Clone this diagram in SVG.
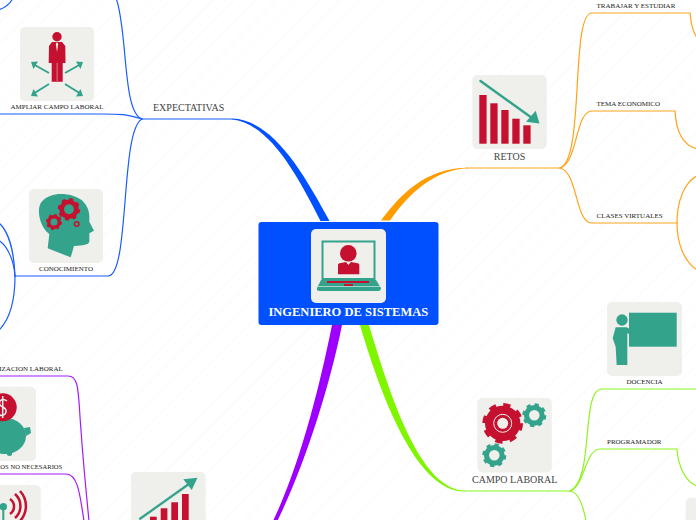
<svg xmlns="http://www.w3.org/2000/svg" width="696" height="520" viewBox="0 0 696 520">
<style>
.box{fill:#efefeb}
.red{fill:#c5102f}
.teal{fill:#34a38c}
.tl{stroke:#34a38c;fill:none}
.c{fill:none;stroke-width:1.2;stroke-linecap:round}
.blue{stroke:#1a5cff}.orange{stroke:#ffa31a}.green{stroke:#8cf51a}.purple{stroke:#a31aff}
text{font-family:"Liberation Serif","Times New Roman",serif;fill:#333}
.s{font-size:7px;fill:#222}
.m{font-size:10px;fill:#444}
</style>
<defs>
<pattern id="bg" width="15" height="15" patternUnits="userSpaceOnUse" patternTransform="rotate(-45)">
<rect width="15" height="15" fill="#fff"/><rect width="15" height="1.2" fill="#fbfbfb"/>
</pattern>
<g id="gear" fill="none">
<circle r="7" stroke-width="4.6"/>
<circle r="9.4" stroke-width="2.6" stroke-dasharray="3.69 3.69"/>
</g>
</defs>
<rect width="696" height="520" fill="url(#bg)"/>
<g id="connectors">
<path fill="#0050ff" d="M232,118.600C272,120 302,170 329.500,221L320.500,221C296,172 268,123 232,119.600Z"/>
<path fill="#ff9d00" d="M381,220.500C400,195 425,168 468,167.700L468,168.300C435,170 410,192 390,220.500Z"/>
<path fill="#9d00ff" d="M332,325L342,325C330,385 305,465 277.300,521L273,521C300,465 320,385 332,325Z"/>
<path fill="#80f500" d="M360,325L369,325C390,395 420,490 465,490.600L465,491.600C420,492 385,410 360,325Z"/>
<g class="c blue">
<path d="M232,119H142"/>
<path d="M142,119C122,112 128,30 116,-2"/>
<path d="M142,119C125,114 122,114 100,114H-2"/>
<path d="M142,119C120,130 130,276 108,276H15"/>
<path d="M15,276C14,250 8,230 -2,222"/>
<path d="M15,276C14,262 8,245 -2,240"/>
<path d="M15,276C15,300 10,320 -2,331"/>
<path d="M13,-2C10,4 5,8 -2,10"/>
</g>
<g class="c orange">
<path d="M466,168H560"/>
<path d="M560,168C585,160 570,13 592,13H690C691,25 693,32 697,38"/>
<path d="M560,168C578,163 575,111 592,111H675C676,130 682,145 697,149"/>
<path d="M560,168C578,172 575,223 592,223H677"/>
<path d="M677,223C677,200 685,182 697,176"/>
<path d="M677,223C677,245 685,262 697,270"/>
</g>
<g class="c green">
<path d="M465,491H570"/>
<path d="M570,491C595,480 580,389 602,389H697"/>
<path d="M570,491C585,486 585,449 600,449H677C678,465 685,482 697,486"/>
<path d="M570,491C578,492 583,505 586,521"/>
</g>
<g class="c purple">
<path d="M-2,376H68C80,376 78,395 81,430C83,460 86,490 89,521"/>
<path d="M-2,474H66C78,474 80,495 84,521"/>
</g>
</g>
<g id="central">
<rect x="258.500" y="222" width="180" height="103" rx="3" fill="#0050ff"/>
<rect class="box" x="311" y="229" width="75" height="74" rx="5"/>
<rect x="322.500" y="241.500" width="52" height="37.500" fill="#efefeb" stroke="#34a38c" stroke-width="2"/>
<path class="teal" d="M321,280H376L381,288Q381,291 378,291H320Q316,291 317,288Z"/>
<rect x="318" y="286" width="62" height="1" fill="#a5d5ca"/>
<rect class="red" x="327" y="281" width="42" height="2"/>
<rect class="red" x="344" y="284" width="9" height="2"/>
<circle class="red" cx="348.300" cy="253.300" r="8.300"/>
<path class="red" d="M338,265Q338,263 341,263L346,262L348.300,265L351,262L356,263Q359.300,263 359.300,265V274.300H338Z"/>
<text x="348.300" y="316" text-anchor="middle" font-size="12.500" font-weight="bold" style="fill:#fff">INGENIERO DE SISTEMAS</text>
</g>
<g id="expectativas"><text class="m" x="153" y="111">EXPECTATIVAS</text></g>
<g id="ampliar">
<rect class="box" x="20" y="27" width="74" height="74" rx="5"/>
<circle class="red" cx="57" cy="36.700" r="4.700"/>
<path class="red" d="M52,42H62L65.300,46L65.500,63H62.700V81.700H51.700V63H48.700L49,46Z"/>
<path d="M57,42L55.800,44L57,52L58.200,44Z" fill="#efefeb"/>
<rect x="56.800" y="63" width=".5" height="18" fill="#efefeb"/>
<g class="tl" stroke-width="2">
<path d="M49,73L33,64"/><path d="M65,73L81,64"/><path d="M49,84L33,94"/><path d="M65,84L81,94"/>
</g>
<path class="teal" d="M31,62L38,61.500L33.500,69ZM83,62L76,61.500L80.500,69ZM31,96L38,96.500L33.500,89ZM83,96L76,96.500L80.500,89Z"/>
<text class="s" x="57" y="108.500" text-anchor="middle">AMPLIAR CAMPO LABORAL</text>
</g>
<g id="conocimiento">
<rect class="box" x="29" y="189" width="74" height="74" rx="5"/>
<path class="teal" transform="scale(.33333)" d="M143,745L148,702C118,680 108,625 125,605C150,575 210,575 245,600C272,625 268,650 268,665L282,692L268,700L268,725C265,735 250,735 222,738L212,772Z"/>
<use href="#gear" stroke="#c5102f" transform="translate(69,209.300) scale(1.050)"/>
<use href="#gear" stroke="#c5102f" transform="translate(54,222) scale(.75)"/>
<circle cx="76.700" cy="224" r="2.300" fill="none" stroke="#c5102f" stroke-width="1.500"/>
<text class="s" x="66" y="271" text-anchor="middle">CONOCIMIENTO</text>
</g>
<g id="retos">
<rect class="box" x="472.300" y="75" width="74.500" height="74" rx="5"/>
<g class="red">
<rect x="479.300" y="95" width="7.300" height="48.700"/>
<rect x="490.300" y="103.300" width="7.300" height="40.400"/>
<rect x="501.300" y="110" width="7.300" height="33.700"/>
<rect x="512.300" y="118.700" width="7.300" height="25"/>
<rect x="523.300" y="125.300" width="7.300" height="18.400"/>
</g>
<path class="tl" stroke-width="2.500" stroke-linecap="round" d="M480.500,81L532,118"/>
<path class="teal" d="M539.500,123.500L526,121.700L535.700,110.700Z"/>
<text class="m" x="509.500" y="160" text-anchor="middle">RETOS</text>
</g>
<g id="trabajar"><text class="s" x="596.500" y="8">TRABAJAR Y ESTUDIAR</text></g>
<g id="tema"><text class="s" x="596.500" y="106">TEMA ECONOMICO</text></g>
<g id="clases"><text class="s" x="596.500" y="218">CLASES VIRTUALES</text></g>
<g id="docencia">
<rect class="box" x="607" y="302" width="75" height="74" rx="5"/>
<rect class="teal" x="629" y="312.700" width="47.700" height="34"/>
<circle class="teal" cx="622" cy="320" r="5.700"/>
<path class="teal" transform="translate(450,290) scale(.33333)" d="M497,112L530,112C540,120 560,122 580,120L582,130C560,135 540,135 532,130L532,225L500,225L497,170L488,145Z"/>
<text class="s" x="644.500" y="384" text-anchor="middle">DOCENCIA</text>
</g>
<g id="programador"><text class="s" x="607" y="444">PROGRAMADOR</text></g>
<g id="campo">
<rect class="box" x="477.300" y="398" width="74.500" height="74.500" rx="5"/>
<use href="#gear" stroke="#c5102f" transform="translate(502.700,423.300) scale(1.900)"/>
<circle cx="502.700" cy="423.300" r="10" fill="#c5102f" stroke="none"/>
<circle cx="502.700" cy="423.300" r="9" fill="none" stroke="#efefeb" stroke-width="1"/>
<circle cx="502.700" cy="423.300" r="5.500" fill="#efefeb"/>
<use href="#gear" stroke="#34a38c" transform="translate(534.300,415.300) scale(1.120)"/>
<use href="#gear" stroke="#34a38c" transform="translate(494.300,455.300) scale(1.120)"/>
<text class="m" x="472" y="483">CAMPO LABORAL</text>
</g>
<g id="actualizacion"><text class="s" x="62.800" y="371" text-anchor="end">IZACION LABORAL</text></g>
<g id="ahorro">
<rect class="box" x="-20" y="386.700" width="56" height="74.300" rx="5"/>
<circle cx="2.700" cy="407.300" r="15.500" fill="#efefeb"/>
<ellipse class="teal" cx="5" cy="436" rx="21" ry="18"/>
<path class="teal" d="M24,428L30,427L31,433L26,436ZM7,452H12V455Q9.500,457 7,455Z"/>
<circle class="red" cx="2.700" cy="407.300" r="14"/>
<path d="M7,401Q3,398 0,401Q-2,405 3,407Q8,410 5,414Q2,417 -2,414M2.700,396V418" fill="none" stroke="#efefeb" stroke-width="1.500"/>
<text class="s" x="0.300" y="469" textLength="62" lengthAdjust="spacingAndGlyphs">OS NO NECESARIOS</text>
</g>
<g id="senal">
<rect class="box" x="-20" y="485" width="60.700" height="50" rx="5"/>
<circle class="teal" cx="3.300" cy="506.700" r="3.700"/>
<rect class="teal" x="2.300" y="508" width="2" height="14"/>
<g fill="none" stroke="#c5102f" stroke-width="2.500">
<path d="M10,499A9,9 0 0 1 10,514"/>
<path d="M15,494A16,16 0 0 1 15,518"/>
<path d="M20,491A22,22 0 0 1 20,521"/>
</g>
</g>
<g id="crecimiento">
<rect class="box" x="131" y="472" width="74.700" height="60" rx="5"/>
<g class="red">
<rect x="150" y="516.700" width="6.700" height="5"/>
<rect x="160.700" y="508.300" width="6.700" height="13"/>
<rect x="171.300" y="502.300" width="6.700" height="19"/>
<rect x="182" y="494" width="6.700" height="27"/>
</g>
<path class="tl" stroke-width="2.300" d="M139.300,519.300L191,482.500"/>
<path class="teal" d="M197.500,477.700L183.300,479.300L191.700,490Z"/>
</g>
<g id="extra"><rect class="box" x="685.700" y="497.700" width="30" height="40" rx="5"/></g>
</svg>
